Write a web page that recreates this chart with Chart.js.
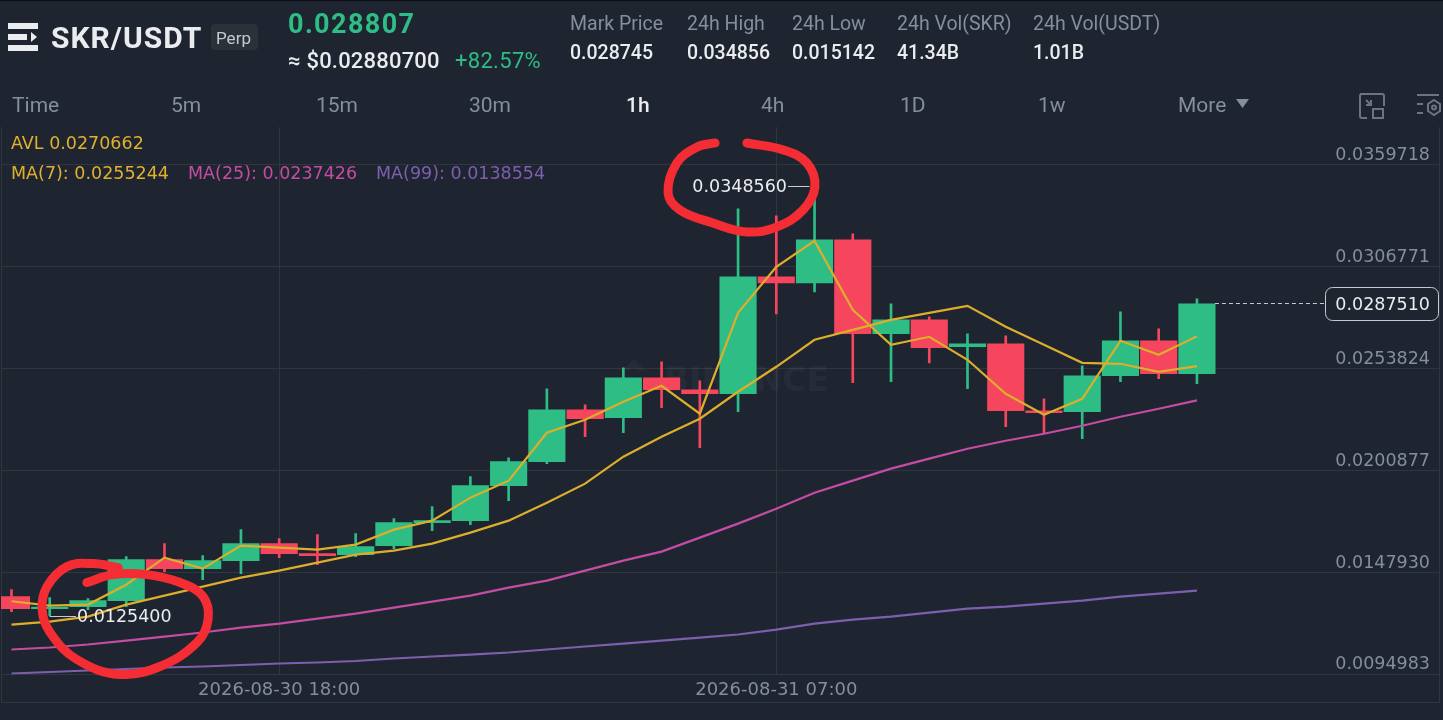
<!DOCTYPE html>
<html>
<head>
<meta charset="utf-8">
<title>SKR/USDT</title>
<script src="https://cdn.jsdelivr.net/npm/chart.js@4"></script>
<style>
html, body { margin: 0; padding: 0; background: #1e2530; overflow: hidden; }
#wrap { position: relative; width: 1443px; height: 720px; font-family: Roboto, sans-serif; }
#wrap canvas { position: absolute; left: 0; top: 0; }
.t { position: absolute; white-space: nowrap; line-height: 1; transform: translateY(-50%); z-index: 2; }
.gray { color: #848e9c; }
.white { color: #eaecef; }
.green { color: #2ebd85; }
.dv { font-family: "DejaVu Sans", sans-serif; font-size: 17.5px; }
.lbl { top: 24px; font-size: 19.5px; }
.val { top: 53px; font-size: 19.5px; font-weight: 500; }
.tab { top: 105px; font-size: 21px; }
</style>
</head>
<body>
<div id="wrap">
  <div style="position:absolute;left:0;top:0;width:1443px;height:1px;background:#0b0e11"></div>
  <svg style="position:absolute;left:8px;top:23px" width="30" height="29" viewBox="0 0 30 29">
    <rect x="0" y="0" width="30" height="6" fill="#eaecef"/>
    <rect x="0" y="11" width="19" height="6" fill="#eaecef"/>
    <path d="M23 9 L29 14 L23 19 Z" fill="#eaecef"/>
    <rect x="0" y="22" width="30" height="6" fill="#eaecef"/>
  </svg>
  <span class="t white" style="left:51px;top:38px;font-size:30px;font-weight:700;letter-spacing:1px">SKR/USDT</span>
  <div style="position:absolute;left:211px;top:24px;width:47px;height:26px;background:#2b3139;border-radius:4px"></div>
  <span class="t" style="left:216px;top:38px;font-size:17px;color:#c5cad2">Perp</span>
  <span class="t green" style="left:288px;top:24px;font-size:27px;font-weight:700;letter-spacing:1.4px">0.028807</span>
  <span class="t white" style="left:288px;top:61px;font-size:22px;font-weight:500;letter-spacing:.2px">≈ $0.02880700</span>
  <span class="t green" style="left:455px;top:61px;font-size:22px;letter-spacing:.3px">+82.57%</span>

  <span class="t gray lbl" style="left:570px">Mark Price</span>
  <span class="t white val" style="left:570px">0.028745</span>
  <span class="t gray lbl" style="left:687px">24h High</span>
  <span class="t white val" style="left:687px">0.034856</span>
  <span class="t gray lbl" style="left:792px">24h Low</span>
  <span class="t white val" style="left:792px">0.015142</span>
  <span class="t gray lbl" style="left:897px">24h Vol(SKR)</span>
  <span class="t white val" style="left:897px">41.34B</span>
  <span class="t gray lbl" style="left:1033px">24h Vol(USDT)</span>
  <span class="t white val" style="left:1033px">1.01B</span>

  <span class="t gray tab" style="left:12px">Time</span>
  <span class="t gray tab" style="left:171px">5m</span>
  <span class="t gray tab" style="left:316px">15m</span>
  <span class="t gray tab" style="left:469px">30m</span>
  <span class="t white tab" style="left:626px;font-weight:500">1h</span>
  <span class="t gray tab" style="left:761px">4h</span>
  <span class="t gray tab" style="left:900px">1D</span>
  <span class="t gray tab" style="left:1038px">1w</span>
  <span class="t gray tab" style="left:1178px">More</span>
  <svg style="position:absolute;left:1236px;top:99px" width="14" height="10"><path d="M0 0 H13 L6.5 9 Z" fill="#848e9c"/></svg>
  <svg style="position:absolute;left:1358px;top:92px" width="28" height="28" fill="none" stroke="#6c7480" stroke-width="2">
    <path d="M13 2 H4 a2 2 0 0 0 -2 2 V24 a2 2 0 0 0 2 2 H9 M2 2 H24 a2 2 0 0 1 2 2 V14"/>
    <rect x="15" y="17" width="10" height="9"/>
    <path d="M8 8 L13 13 M13 8 V13 H8"/>
  </svg>
  <svg style="position:absolute;left:1416px;top:92px" width="27" height="26" fill="none" stroke="#6c7480" stroke-width="2">
    <path d="M1 3 H23 M1 12 H7 M1 21 H7"/>
    <path d="M18 8 L24 12 V19 L18 23 L12 19 V12 Z"/>
    <circle cx="18" cy="15.5" r="2"/>
  </svg>

  <span class="t dv" style="left:11px;top:144px;color:#e0b02f">AVL 0.0270662</span>
  <span class="t dv" style="left:11px;top:174px;color:#e0b02f">MA(7): 0.0255244</span>
  <span class="t dv" style="left:188px;top:174px;color:#c44ca3">MA(25): 0.0237426</span>
  <span class="t dv" style="left:376px;top:174px;color:#7d5fae">MA(99): 0.0138554</span>

  <canvas id="kline" width="1443" height="720"></canvas>
</div>

<script>
// 1h candles, 2026-08-30 11:00 onwards
var opens = [0.013547, 0.012924, 0.013028, 0.013340, 0.015468, 0.015000, 0.015416, 0.016298,
    0.015779, 0.015727, 0.016194, 0.017389, 0.017492, 0.019309, 0.020555, 0.023256,
    0.022839, 0.024915, 0.024292, 0.024084, 0.030158, 0.029847, 0.032079, 0.027203,
    0.027926, 0.026525, 0.026681, 0.023202, 0.023150, 0.025019, 0.026836, 0.025123];
var closes = [0.012924, 0.013002, 0.013340, 0.015468, 0.015000, 0.015416, 0.016298, 0.015779,
    0.015675, 0.016142, 0.017389, 0.017492, 0.019309, 0.020555, 0.023256, 0.022787,
    0.024915, 0.024292, 0.024084, 0.030158, 0.029847, 0.032079, 0.027203, 0.027926,
    0.026473, 0.026681, 0.023202, 0.023098, 0.025019, 0.026836, 0.025123, 0.028751];
var highs = [0.013911, 0.013495, 0.013443, 0.015623, 0.016298, 0.015675, 0.017025, 0.016558,
    0.016765, 0.016817, 0.017596, 0.018219, 0.019775, 0.020762, 0.024344, 0.023513,
    0.025434, 0.025745, 0.024759, 0.033688, 0.033324, 0.034856, 0.032390, 0.028757,
    0.028081, 0.027203, 0.027096, 0.023825, 0.025538, 0.028341, 0.027459, 0.029016];
var lows = [0.012769, 0.012540, 0.012872, 0.013028, 0.014845, 0.014430, 0.014741, 0.015572,
    0.015208, 0.015623, 0.016039, 0.016973, 0.017284, 0.018530, 0.020451, 0.021852,
    0.022060, 0.023358, 0.021282, 0.023150, 0.028237, 0.029380, 0.024655, 0.024707,
    0.025693, 0.024344, 0.022371, 0.022060, 0.021749, 0.024707, 0.024863, 0.024603];

var avl = [0.013303, 0.013079, 0.013131, 0.014164, 0.015572, 0.015000, 0.016194, 0.016090,
    0.015987, 0.016246, 0.017025, 0.017492, 0.018686, 0.019569, 0.022060, 0.022735,
    0.023669, 0.024499, 0.023046, 0.028289, 0.030677, 0.032027, 0.028445, 0.026628,
    0.027044, 0.025850, 0.024084, 0.022994, 0.023825, 0.026836, 0.026109, 0.027066];
var ma7 = [0.012094, 0.012249, 0.012509, 0.013131, 0.013600, 0.014066, 0.014533, 0.014897,
    0.015312, 0.015727, 0.015935, 0.016298, 0.016869, 0.017492, 0.018426, 0.019413,
    0.020814, 0.021852, 0.022787, 0.024188, 0.025486, 0.026888, 0.027407, 0.027926,
    0.028289, 0.028653, 0.027562, 0.026628, 0.025693, 0.025642, 0.025227, 0.025524];
var ma25 = [0.010796, 0.010900, 0.011056, 0.011263, 0.011471, 0.011679, 0.011938, 0.012146,
    0.012405, 0.012665, 0.012976, 0.013288, 0.013599, 0.014014, 0.014378, 0.014897,
    0.015416, 0.015883, 0.016610, 0.017337, 0.018115, 0.018946, 0.019569, 0.020192,
    0.020711, 0.021229, 0.021645, 0.022008, 0.022424, 0.022891, 0.023307, 0.023743];
var ma99 = [0.009550, 0.009628, 0.009706, 0.009784, 0.009862, 0.009914, 0.009991, 0.010069,
    0.010121, 0.010199, 0.010329, 0.010433, 0.010536, 0.010640, 0.010796, 0.010952,
    0.011107, 0.011263, 0.011419, 0.011575, 0.011834, 0.012146, 0.012353, 0.012509,
    0.012717, 0.012924, 0.013028, 0.013184, 0.013340, 0.013547, 0.013703, 0.013855];

var yTicks = [0.0359718, 0.0306771, 0.0253824, 0.0200877, 0.0147930, 0.0094983];
var xTickIndex = [7, 20];
var xTickLabels = ["2026-08-30 18:00", "2026-08-31 07:00"];

var lastPrice = 0.0287510;

// hand drawn red rings, in candle index / price
var ringLowX = [2.79, 2.13, 1.45, 0.93, 0.80, 1.01, 1.71, 2.84, 3.88, 4.85, 5.14, 5.01, 4.41, 3.54, 2.65, 1.97];
var ringLowY = [0.015052, 0.015260, 0.015104, 0.014066, 0.012872, 0.011679, 0.010277, 0.009498,
    0.009914, 0.011159, 0.012353, 0.013547, 0.014275, 0.014689, 0.014689, 0.014275];
var ringHighX = [18.40, 17.93, 17.40, 17.17, 17.48, 18.34, 19.23, 20.02, 20.70, 21.01, 20.80, 20.18, 19.23];
var ringHighY = [0.037114, 0.036906, 0.036076, 0.034518, 0.033636, 0.032961, 0.032494, 0.032753,
    0.033636, 0.034830, 0.036076, 0.036750, 0.037114];

var UP = "#2ebd85";
var DOWN = "#f6465d";
var GOLD = "#dcae2c";
var AXIS_FONT = '"DejaVu Sans", sans-serif';

function candleColor(i) {
    return closes[i] >= opens[i] ? UP : DOWN;
}

function lineSet(values, color, order) {
    return {
        type: "line",
        data: values.map(function (v, i) { return { x: i, y: v }; }),
        borderColor: color,
        borderWidth: 2.2,
        pointRadius: 0,
        tension: 0,
        order: order
    };
}

function ringSet(xs, ys) {
    return {
        type: "line",
        data: xs.map(function (v, i) { return { x: v, y: ys[i] }; }),
        borderColor: "#f42c33",
        borderWidth: 9,
        borderCapStyle: "round",
        borderJoinStyle: "round",
        pointRadius: 0,
        tension: 0.4,
        clip: false,
        order: 0
    };
}

// stuff the library has no option for: frame, watermark, hi/lo tags, last price tag
var extras = {
    id: "extras",
    beforeDatasetsDraw: function (chart) {
        var c = chart.ctx;
        var a = chart.chartArea;
        c.save();
        c.strokeStyle = "#30363f";
        c.lineWidth = 1;
        c.beginPath();
        c.moveTo(a.left + 0.5, a.top);
        c.lineTo(a.left + 0.5, 702.5);
        c.lineTo(a.right + 0.5, 702.5);
        c.lineTo(a.right + 0.5, a.top);
        c.stroke();
        c.fillStyle = "rgba(255,255,255,0.035)";
        c.font = "bold 33px " + AXIS_FONT;
        c.textBaseline = "middle";
        c.fillText("BINANCE", 664, 382);
        c.beginPath();
        c.moveTo(634, 359); c.lineTo(647, 372); c.lineTo(634, 368); c.lineTo(621, 372);
        c.closePath();
        c.fill();
        c.restore();
    },
    afterDatasetsDraw: function (chart) {
        var c = chart.ctx;
        var x = chart.scales.x;
        var y = chart.scales.y;
        c.save();
        c.font = "17.5px " + AXIS_FONT;
        c.textBaseline = "middle";
        c.fillStyle = "#eaecef";
        c.strokeStyle = "#c5cad2";
        c.lineWidth = 1;

        // highest high, tag on the left of the candle (leader stops at the ring)
        var hi = highs.indexOf(Math.max.apply(null, highs));
        var hiY = Math.round(y.getPixelForValue(highs[hi])) + 0.5;
        c.textAlign = "right";
        c.fillText(highs[hi].toFixed(7), 787, hiY + 1);
        c.beginPath();
        c.moveTo(788, hiY);
        c.lineTo(x.getPixelForValue(hi) - 5, hiY);
        c.stroke();

        // lowest low, tag on the right of the candle
        var lo = lows.indexOf(Math.min.apply(null, lows));
        var loY = Math.round(y.getPixelForValue(lows[lo])) + 0.5;
        c.textAlign = "left";
        c.fillText(lows[lo].toFixed(7), 77, loY + 1);
        c.beginPath();
        c.moveTo(x.getPixelForValue(lo), loY);
        c.lineTo(76, loY);
        c.stroke();

        // last price
        var n = closes.length - 1;
        var py = Math.round(y.getPixelForValue(lastPrice)) - 0.5;
        c.setLineDash([4, 3]);
        c.beginPath();
        c.moveTo(x.getPixelForValue(n) + 18, py);
        c.lineTo(1325, py);
        c.stroke();
        c.setLineDash([]);
        c.fillStyle = "#1e2530";
        c.beginPath();
        c.roundRect(1325.5, 287.5, 113, 33, 7);
        c.fill();
        c.stroke();
        c.fillStyle = "#eaecef";
        c.textAlign = "right";
        c.fillText(lastPrice.toFixed(7), 1430, 305);
        c.restore();
    }
};

new Chart(document.getElementById("kline"), {
    data: {
        datasets: [
            {
                type: "bar",
                data: lows.map(function (v, i) { return { x: i, y: [v, highs[i]] }; }),
                backgroundColor: lows.map(function (v, i) { return candleColor(i); }),
                barThickness: 2,
                grouped: false,
                order: 6
            },
            {
                type: "bar",
                data: opens.map(function (v, i) { return { x: i, y: [v, closes[i]] }; }),
                backgroundColor: opens.map(function (v, i) { return candleColor(i); }),
                barThickness: 36.5,
                grouped: false,
                order: 5
            },
            lineSet(ma99, "#7d5fae", 4),
            lineSet(ma25, "#c44ca3", 3),
            lineSet(ma7, GOLD, 2),
            lineSet(avl, GOLD, 1),
            ringSet(ringLowX, ringLowY),
            ringSet(ringHighX, ringHighY)
        ]
    },
    options: {
        responsive: false,
        animation: false,
        events: [],
        layout: { padding: { left: 1, right: 4, top: 127, bottom: 0 } },
        plugins: { legend: { display: false }, tooltip: { enabled: false } },
        scales: {
            x: {
                type: "linear",
                offset: false,
                min: -0.2746,
                max: 37.33,
                border: { display: false },
                grid: { color: "#30363f", drawTicks: false, offset: false },
                afterBuildTicks: function (scale) {
                    scale.ticks = xTickIndex.map(function (v) { return { value: v }; });
                },
                afterFit: function (scale) { scale.height = 45.5; },
                ticks: {
                    autoSkip: false,
                    maxRotation: 0,
                    padding: 5,
                    color: "#848e9c",
                    font: { family: AXIS_FONT, size: 18 },
                    callback: function (value) {
                        return xTickLabels[xTickIndex.indexOf(value)];
                    }
                }
            },
            y: {
                type: "linear",
                position: "right",
                min: 0.0094983,
                max: 0.0379443,
                border: { display: false },
                grid: { color: "#30363f", drawTicks: false },
                afterBuildTicks: function (scale) {
                    scale.ticks = yTicks.map(function (v) { return { value: v }; });
                },
                afterFit: function (scale) { scale.width = 0; },
                ticks: {
                    mirror: true,
                    padding: -9,
                    color: "#848e9c",
                    font: { family: AXIS_FONT, size: 17.5, lineHeight: 1.1 },
                    callback: function (value) {
                        // empty second line lifts the label above its grid line
                        return [value.toFixed(7), ""];
                    }
                }
            }
        }
    },
    plugins: [extras]
});
</script>
</body>
</html>
